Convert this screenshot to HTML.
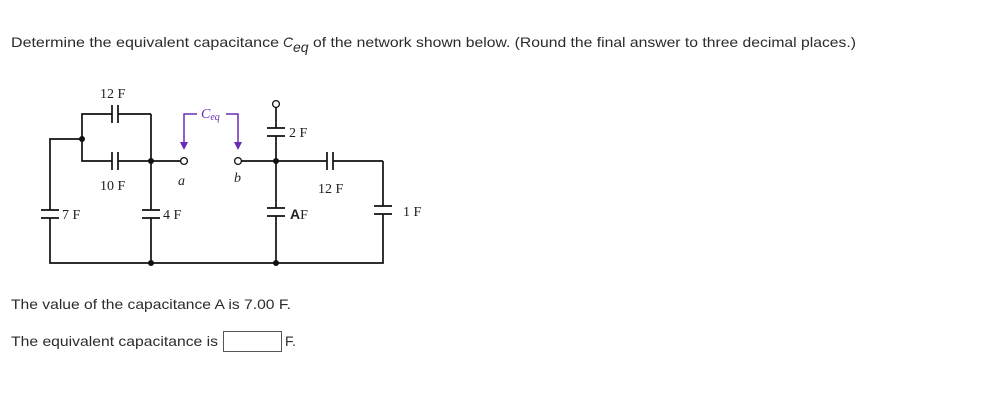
<!DOCTYPE html>
<html><head><style>
html,body{margin:0;padding:0;background:#fff;}
svg{display:block;}
.t{font-family:"Liberation Sans",Arial,sans-serif;font-size:14px;fill:#2b2b2b;}
.c{font-family:"Liberation Serif",serif;font-size:14px;fill:#222;}
</style></head><body>
<svg width="985" height="406" viewBox="0 0 985 406" xmlns="http://www.w3.org/2000/svg">
<text class="t" x="11" y="47" textLength="268" lengthAdjust="spacingAndGlyphs">Determine the equivalent capacitance</text>
<text class="t" x="283" y="47" font-style="italic">C</text>
<text class="t" x="293" y="52" font-style="italic" font-size="13">eq</text>
<text class="t" x="313" y="47" textLength="543" lengthAdjust="spacingAndGlyphs">of the network shown below. (Round the final answer to three decimal places.)</text>
<text class="t" x="11" y="309" textLength="280" lengthAdjust="spacingAndGlyphs">The value of the capacitance A is 7.00 F.</text>
<text class="t" x="11" y="346" textLength="207" lengthAdjust="spacingAndGlyphs">The equivalent capacitance is</text>
<rect x="223.5" y="331.5" width="58" height="20" fill="#fff" stroke="#555" stroke-width="1"/>
<text class="t" x="285" y="346">F.</text>

<g stroke="#111" stroke-width="1.7" fill="none">
<polyline points="82,139 50,139 50,210"/>
<polyline points="50,218 50,263 383,263 383,214"/>
<line x1="41" y1="210" x2="59" y2="210"/><line x1="41" y1="218" x2="59" y2="218"/>
<polyline points="82,139 82,114 112,114"/><line x1="118" y1="114" x2="151" y2="114"/>
<line x1="112" y1="105" x2="112" y2="123"/><line x1="118" y1="105" x2="118" y2="123"/>
<polyline points="82,139 82,161 112,161"/><line x1="118" y1="161" x2="151" y2="161"/>
<line x1="112" y1="152" x2="112" y2="170"/><line x1="118" y1="152" x2="118" y2="170"/>
<line x1="151" y1="114" x2="151" y2="210"/><line x1="151" y1="218" x2="151" y2="263"/>
<line x1="142" y1="210" x2="160" y2="210"/><line x1="142" y1="218" x2="160" y2="218"/>
<line x1="151" y1="161" x2="181" y2="161"/>
<line x1="241" y1="161" x2="327" y2="161"/><line x1="333" y1="161" x2="383" y2="161"/>
<line x1="327" y1="152" x2="327" y2="170"/><line x1="333" y1="152" x2="333" y2="170"/>
<line x1="383" y1="161" x2="383" y2="206"/>
<line x1="374" y1="206" x2="392" y2="206"/><line x1="374" y1="214" x2="392" y2="214"/>
<line x1="276" y1="107" x2="276" y2="128"/><line x1="276" y1="136" x2="276" y2="208"/>
<line x1="267" y1="128" x2="285" y2="128"/><line x1="267" y1="136" x2="285" y2="136"/>
<line x1="267" y1="208" x2="285" y2="208"/><line x1="267" y1="216" x2="285" y2="216"/>
<line x1="276" y1="216" x2="276" y2="263"/>
<circle cx="184" cy="161" r="3.4" stroke-width="1.3"/>
<circle cx="238" cy="161" r="3.4" stroke-width="1.3"/>
<circle cx="276" cy="104" r="3.4" stroke-width="1.3"/>
</g>
<g fill="#111">
<circle cx="82" cy="139" r="3"/><circle cx="151" cy="161" r="3"/>
<circle cx="276" cy="161" r="3"/><circle cx="151" cy="263" r="3"/><circle cx="276" cy="263" r="3"/>
</g>
<g stroke="#6a2bb5" stroke-width="1.5" fill="none">
<polyline points="184,143 184,114 197,114"/><polyline points="226,114 238,114 238,143"/>
</g>
<g fill="#6a2bb5"><polygon points="180,142 188,142 184,150"/><polygon points="234,142 242,142 238,150"/></g>
<text x="201" y="118" font-family="Liberation Serif,serif" font-style="italic" font-size="14" fill="#6a2bb5">C<tspan font-size="10" dy="2">eq</tspan></text>

<text class="c" x="100" y="98">12 F</text>
<text class="c" x="100" y="190">10 F</text>
<text class="c" x="62" y="219">7 F</text>
<text class="c" x="163" y="219">4 F</text>
<text class="c" x="178" y="185" font-style="italic">a</text>
<text class="c" x="234" y="182" font-style="italic">b</text>
<text class="c" x="289" y="137">2 F</text>
<text class="c" x="318" y="193">12 F</text>
<text class="c" x="290" y="219"><tspan font-family="Liberation Sans,sans-serif" font-weight="bold">A</tspan>F</text>
<text class="c" x="403" y="216">1 F</text>
</svg>
</body></html>
